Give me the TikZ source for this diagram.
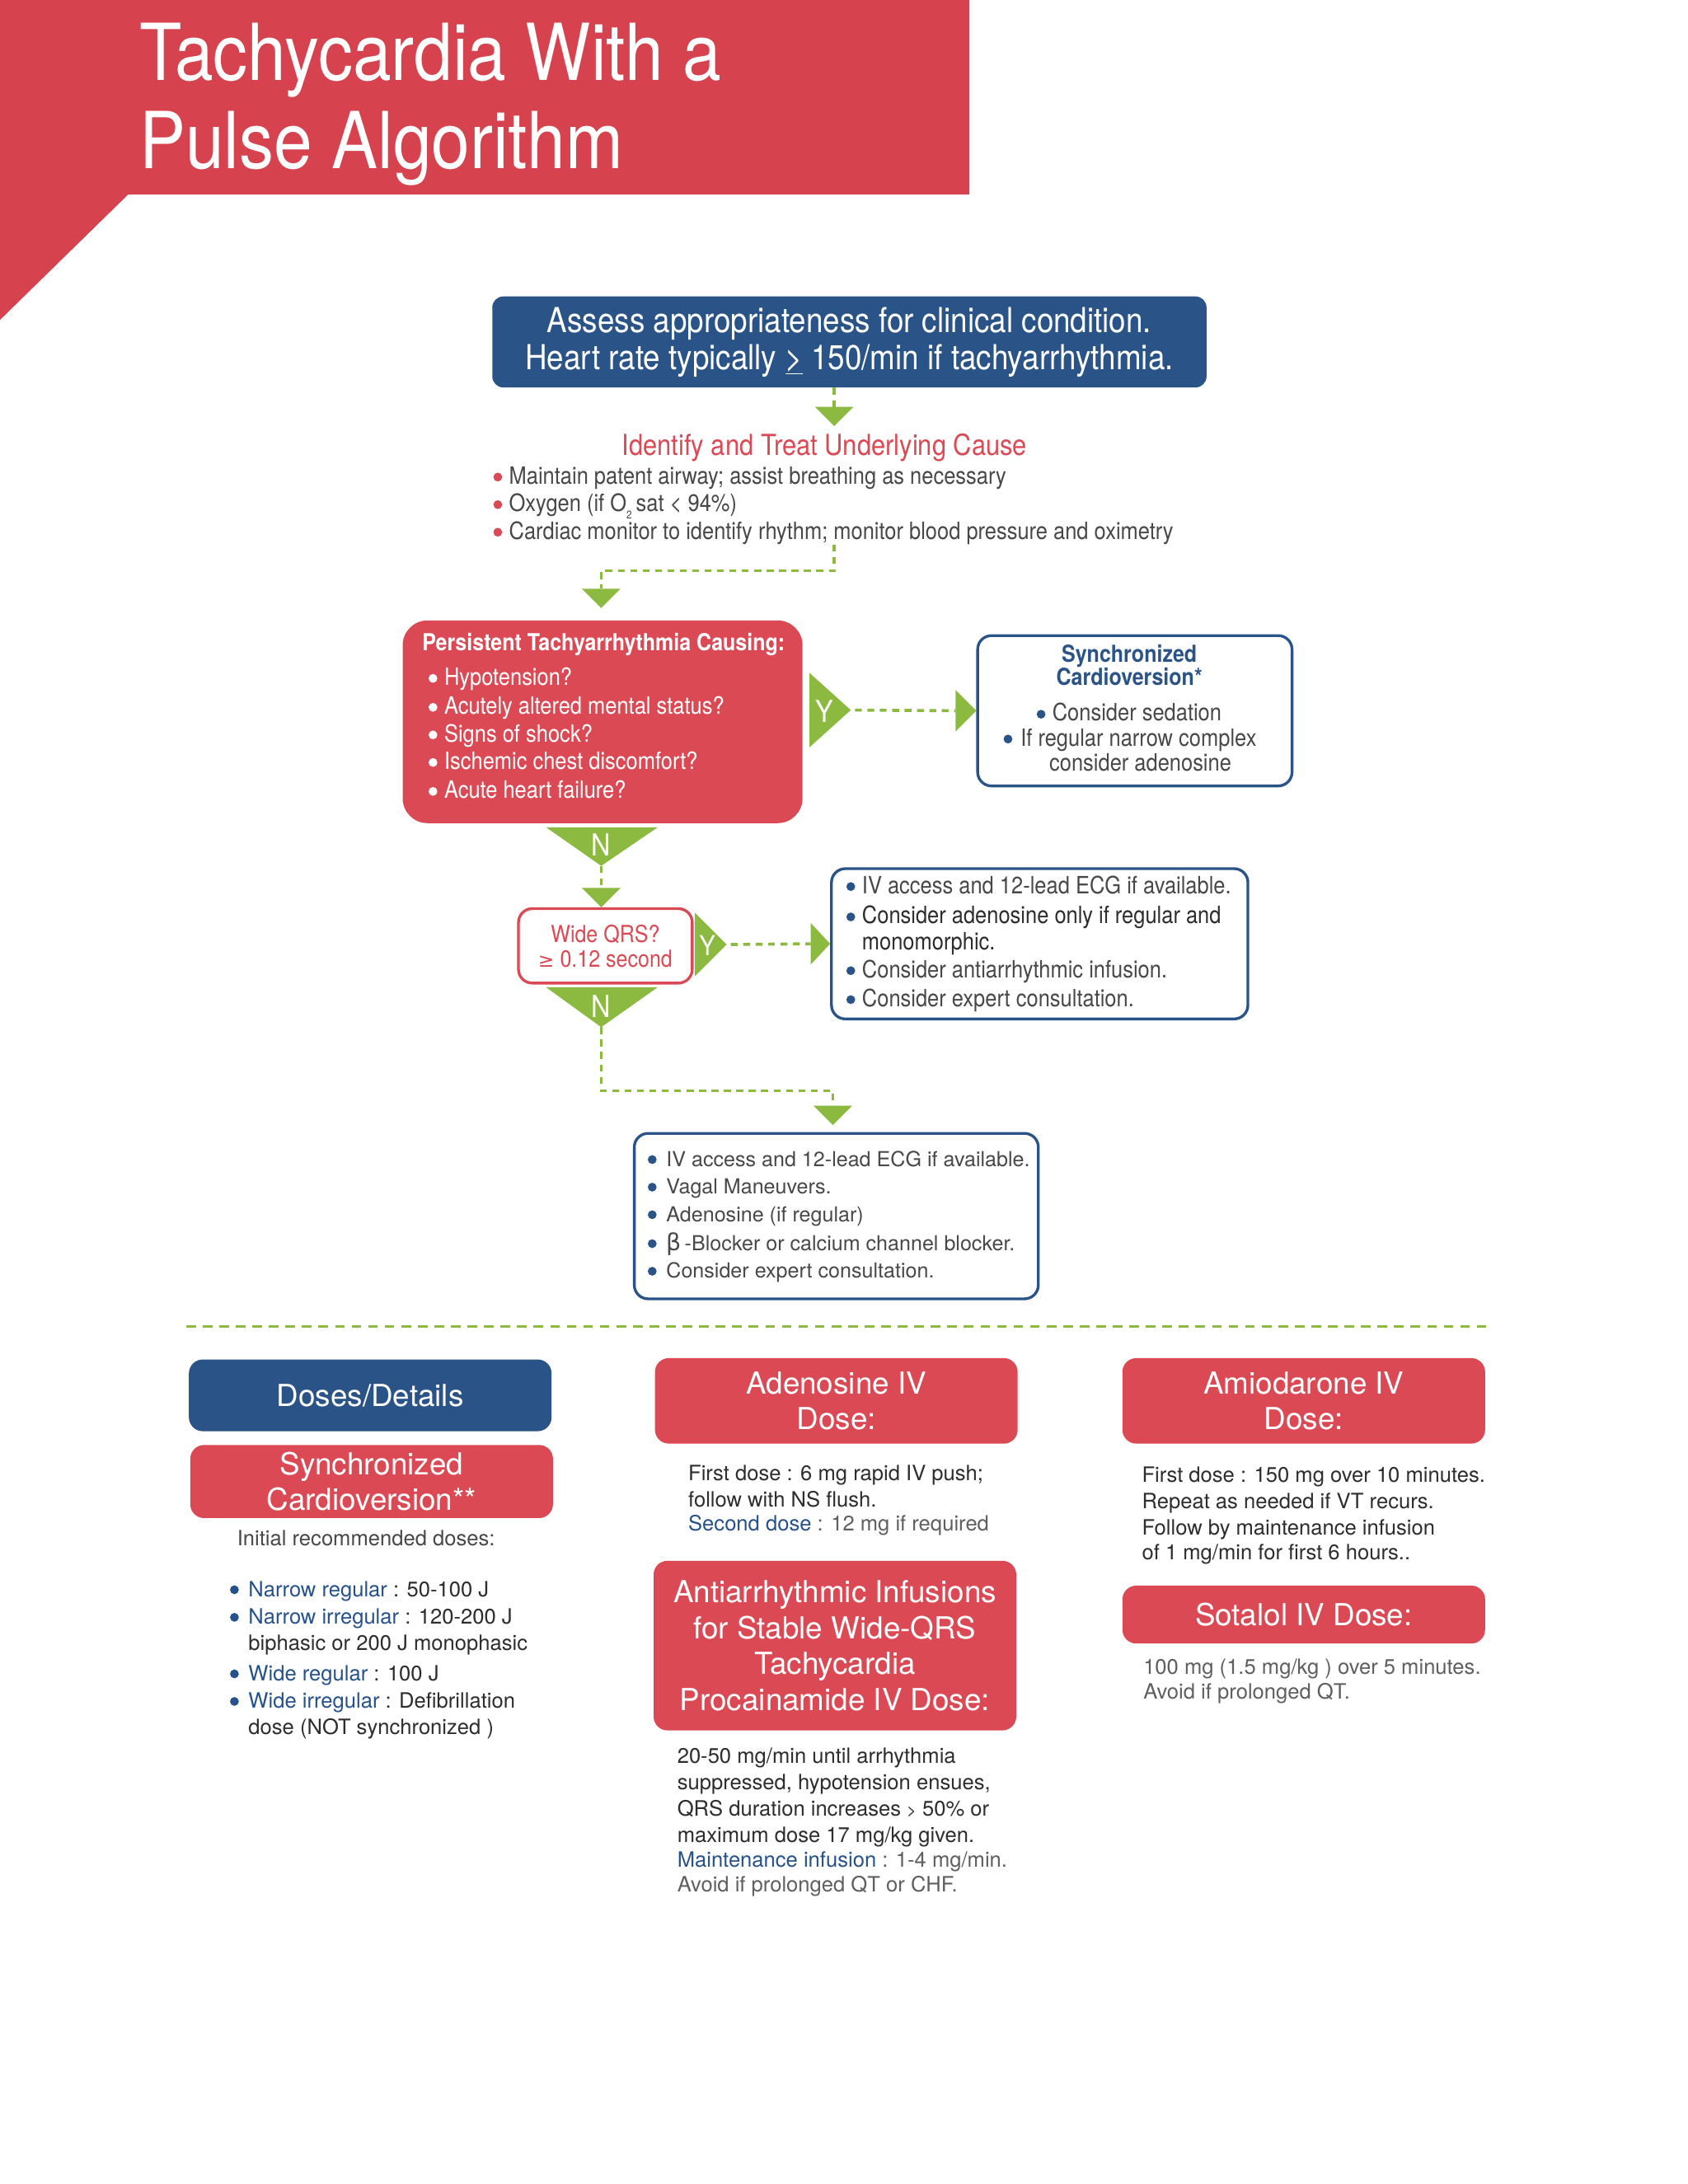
\documentclass[tikz,border=0pt]{standalone}
\usepackage{fontspec}
\setmainfont{TeX Gyre Heros}
\newfontfamily\cond[FakeStretch=0.88]{TeX Gyre Heros}
\newfontfamily\tcond[FakeStretch=0.88]{TeX Gyre Heros}
\newfontfamily\dvs{DejaVu Sans}
\usetikzlibrary{calc}
\definecolor{red1}{RGB}{219,74,84}
\definecolor{red0}{RGB}{214,66,77}
\definecolor{blu}{RGB}{42,84,135}
\definecolor{grn}{RGB}{140,186,65}
\definecolor{gry}{RGB}{72,72,75}
\definecolor{gry2}{RGB}{95,95,98}
\definecolor{dark}{RGB}{45,45,48}
\definecolor{txtblue}{RGB}{38,82,140}
\newcommand\mybul[3]{\fill[#1] (#2,#3) circle (3.2);}
\newcommand\dtri[1]{\fill[grn] (#1) -- ++(-14,-14) -- ++(28,0) -- cycle;}
\begin{document}
\begin{tikzpicture}[x=1pt,y=-1pt,
  gdash/.style={draw=grn, line width=2.2, dash pattern=on 5 off 4},
  fillbox/.style={rounded corners=10, inner sep=0, draw=none},
  outbox/.style={rounded corners=10, inner sep=0, fill=white, line width=2},
  ctxt/.style={inner sep=0, anchor=base west, text=gry, font=\cond\fontsize{17.3}{20}\selectfont},
  ntxt/.style={inner sep=0, anchor=base west, text=gry, font=\fontsize{15.3}{18}\selectfont},
  hdr/.style={text=white, align=center, font=\fontsize{22}{26}\selectfont},
  lab/.style={text=white, inner sep=0, font=\cond\fontsize{22}{24}\selectfont},
]
\useasboundingbox (0,0) rectangle (1224,1584);
\fill[white] (0,0) rectangle (1224,1584);

% title
\fill[red0] (0,0) -- (703,0) -- (703,141) -- (93,141) -- (0,232) -- cycle;
\node[inner sep=0, anchor=base west, text=white, font=\tcond\fontsize{57}{64}\selectfont] (title1) at (101,58) {Tachycardia With a};
\node[inner sep=0, anchor=base west, text=white, font=\tcond\fontsize{57}{64}\selectfont] (title2) at (101,122) {Pulse Algorithm};

% assess box
\node[fillbox, fill=blu, rounded corners=8, minimum width=518, minimum height=66, text=white, align=center, font=\cond\fontsize{25}{27}\selectfont] (assess) at (616,248) {Assess appropriateness for clinical condition.\\Heart rate typically \underline{>} 150/min if tachyarrhythmia.};

\coordinate (tipA) at (605,309);
\draw[gdash] (assess.south -| tipA) -- ($(tipA)+(0,-14)$);
\dtri{tipA}

% identify
\node[inner sep=0, anchor=base, text=red1, font=\cond\fontsize{21}{24}\selectfont] (ident) at (598,330) {Identify and Treat Underlying Cause};
\mybul{red1}{361}{346}
\node[ctxt] (i1) at (369,351) {Maintain patent airway; assist breathing as necessary};
\mybul{red1}{361}{366}
\node[ctxt] (i2) at (369,371) {Oxygen (if O\raisebox{-0.3em}{\fontsize{8}{8}\selectfont 2}\,sat < 94\%)};
\mybul{red1}{361}{386}
\node[ctxt] (i3) at (369,391) {Cardiac monitor to identify rhythm; monitor blood pressure and oximetry};

\coordinate (tipB) at (436,441);
\draw[gdash] (i3.south -| tipA) |- ($(tipB)+(0,-27)$) -- ($(tipB)+(0,-14)$);
\dtri{tipB}

% persistent box
\node[fillbox, fill=red1, rounded corners=18, minimum width=290, minimum height=147] (pers) at (437,523.5) {};
\node[ctxt, text=white, font=\cond\bfseries\fontsize{17}{20}\selectfont] (p0) at (306,472) {Persistent Tachyarrhythmia Causing:};
\mybul{white}{314}{492}
\node[ctxt, text=white] (p1) at (322,497) {Hypotension?};
\mybul{white}{314}{513}
\node[ctxt, text=white] (p2) at (322,518) {Acutely altered mental status?};
\mybul{white}{314}{533}
\node[ctxt, text=white] (p3) at (322,538) {Signs of shock?};
\mybul{white}{314}{553}
\node[ctxt, text=white] (p4) at (322,558) {Ischemic chest discomfort?};
\mybul{white}{314}{574}
\node[ctxt, text=white] (p5) at (322,579) {Acute heart failure?};

% sync box
\node[outbox, draw=blu, minimum width=228, minimum height=109] (sync) at (823,515.5) {};
\node[inner sep=0, anchor=base, text=blu, font=\cond\bfseries\fontsize{17}{20}\selectfont] (s0) at (819,480) {Synchronized};
\node[inner sep=0, anchor=base, text=blu, font=\cond\bfseries\fontsize{17}{20}\selectfont] (s0b) at (819,497) {Cardioversion*};
\mybul{blu}{755}{518}
\node[ctxt] (s1) at (763,523) {Consider sedation};
\mybul{blu}{731}{536}
\node[ctxt] (s2) at (740,541) {If regular narrow complex};
\node[ctxt, anchor=base] (s3) at (827,559) {consider adenosine};

% Y1
\coordinate (y1tip) at (617,515);
\fill[grn] (y1tip) -- ++(-30,-27) -- ++(0,54) -- cycle;
\node[lab] (y1) at (598,516) {Y};
\draw[gdash] ($(y1tip)+(3,0)$) -- ($(sync.west)+(-15,0)$);
\fill[grn] (sync.west) -- ++(-15,-15) -- ++(0,30) -- cycle;

% N1
\coordinate (n1tip) at (436,628);
\fill[grn] (n1tip) -- ++(-40,-28) -- ++(81,0) -- cycle;
\node[lab] (n1) at (436,613) {N};
\coordinate (tipC) at (436,658);
\draw[gdash] (n1tip) -- ($(tipC)+(0,-14)$);
\dtri{tipC}

% wide QRS
\node[outbox, draw=red1, minimum width=126, minimum height=54, text=red1, align=center, font=\cond\fontsize{17}{18}\selectfont] (wq) at (439,686) {Wide QRS?\\{\dvs\fontsize{14}{18}\selectfont ≥} 0.12 second};

% Y2
\coordinate (y2tip) at (527,685);
\fill[grn] (y2tip) -- ++(-23,-23) -- ++(0,46) -- cycle;
\node[lab, font=\cond\fontsize{20}{22}\selectfont] (y2) at (513,686) {Y};

% right box
\node[outbox, draw=blu, minimum width=302, minimum height=109] (rb) at (754,684.5) {};
\draw[gdash] ($(y2tip)+(3,0)$) -- ($(rb.west)+(-14,0)$);
\fill[grn] (rb.west) -- ++(-14,-15) -- ++(0,30) -- cycle;
\mybul{blu}{617}{643}
\node[ctxt] (r1) at (625,648) {IV access and 12-lead ECG if available.};
\mybul{blu}{617}{665}
\node[ctxt, text=dark] (r2) at (625,670) {Consider adenosine only if regular and};
\node[ctxt, text=dark] (r3) at (625,689) {monomorphic.};
\mybul{blu}{617}{704}
\node[ctxt] (r4) at (625,709) {Consider antiarrhythmic infusion.};
\mybul{blu}{617}{725}
\node[ctxt] (r5) at (625,730) {Consider expert consultation.};

% N2
\coordinate (n2tip) at (436,745);
\fill[grn] (n2tip) -- ++(-40,-29) -- ++(81,0) -- cycle;
\node[lab] (n2) at (436,730) {N};
\coordinate (tipD) at (604,816);
\draw[gdash] (n2tip) |- ($(tipD)+(0,-25)$) -- ($(tipD)+(0,-14)$);
\dtri{tipD}

% bottom box
\node[outbox, draw=blu, minimum width=293, minimum height=120] (bb) at (606.5,882) {};
\mybul{blu}{473}{841}
\node[ntxt, font=\fontsize{15}{18}\selectfont] (b1) at (483,846) {IV access and 12-lead ECG if available.};
\mybul{blu}{473}{861}
\node[ntxt, font=\fontsize{15}{18}\selectfont] (b2) at (483,866) {Vagal Maneuvers.};
\mybul{blu}{473}{881}
\node[ntxt, font=\fontsize{15}{18}\selectfont] (b3) at (483,886) {Adenosine (if regular)};
\mybul{blu}{473}{902}
\node[ntxt, font=\fontsize{15}{18}\selectfont] (b4) at (483,907) {{\dvs\fontsize{17}{18}\selectfont β}\,-Blocker or calcium channel blocker.};
\mybul{blu}{473}{922}
\node[ntxt, font=\fontsize{15}{18}\selectfont] (b5) at (483,927) {Consider expert consultation.};

% separator
\coordinate (sepL) at (135,962);
\coordinate (sepR) at (1078,962);
\draw[grn, line width=2, dash pattern=on 7 off 5] (sepL) -- (sepR);

% left column
\node[fillbox, fill=blu, minimum width=263, minimum height=52, hdr] (doses) at (268.5,1012) {Doses/Details};
\node[fillbox, fill=red1, minimum width=263, minimum height=53, hdr] (scard) at (269.5,1074.5) {Synchronized\\Cardioversion**};
\node[ntxt, anchor=base] (init) at (265.5,1121) {Initial recommended doses:};
\mybul{txtblue}{170}{1153}
\node[ntxt, text=dark] (l1) at (180,1158) {\textcolor{txtblue}{Narrow regular} : 50-100 J};
\mybul{txtblue}{170}{1173}
\node[ntxt, text=dark] (l2) at (180,1178) {\textcolor{txtblue}{Narrow irregular} : 120-200 J};
\node[ntxt, text=dark] (l3) at (180,1197) {biphasic or 200 J monophasic};
\mybul{txtblue}{170}{1214}
\node[ntxt, text=dark] (l4) at (180,1219) {\textcolor{txtblue}{Wide regular} : 100 J};
\mybul{txtblue}{170}{1234}
\node[ntxt, text=dark] (l5) at (180,1239) {\textcolor{txtblue}{Wide irregular} : Defibrillation};
\node[ntxt, text=dark] (l6) at (180,1258) {dose (NOT synchronized )};

% middle column
\node[fillbox, fill=red1, minimum width=263, minimum height=62, hdr] (aden) at (606.5,1016) {Adenosine IV\\Dose:};
\node[ntxt, text=dark] (m1) at (499,1074) {First dose : 6 mg rapid IV push;};
\node[ntxt, text=dark] (m2) at (499,1093) {follow with NS flush.};
\node[ntxt, text=gry2] (m3) at (499,1110) {\textcolor{txtblue}{Second dose} : 12 mg if required};
\node[fillbox, fill=red1, minimum width=263, minimum height=123, hdr] (anti) at (605.5,1193.5) {Antiarrhythmic Infusions\\for Stable Wide-QRS\\Tachycardia\\Procainamide IV Dose:};
\node[ntxt, text=dark] (m4) at (491,1279) {20-50 mg/min until arrhythmia};
\node[ntxt, text=dark] (m5) at (491,1298) {suppressed, hypotension ensues,};
\node[ntxt, text=dark] (m6) at (491,1317) {QRS duration increases {\fontsize{12}{12}\selectfont >} 50\% or};
\node[ntxt, text=dark] (m7) at (491,1336) {maximum dose 17 mg/kg given.};
\node[ntxt, text=gry2] (m8) at (491,1354) {\textcolor{txtblue}{Maintenance infusion} : 1-4 mg/min.};
\node[ntxt, text=gry2] (m9) at (491,1372) {Avoid if prolonged QT or CHF.};

% right column
\node[fillbox, fill=red1, minimum width=263, minimum height=62, hdr] (amio) at (945.5,1016) {Amiodarone IV\\Dose:};
\node[ntxt, text=dark] (a1) at (828,1075) {First dose : 150 mg over 10 minutes.};
\node[ntxt, text=dark] (a2) at (828,1094) {Repeat as needed if VT recurs.};
\node[ntxt, text=dark] (a3) at (828,1113) {Follow by maintenance infusion};
\node[ntxt, text=dark] (a4) at (828,1131) {of 1 mg/min for first 6 hours..};
\node[fillbox, fill=red1, minimum width=263, minimum height=42, hdr] (sota) at (945.5,1171) {Sotalol IV Dose:};
\node[ntxt, text=gry2] (o1) at (829,1214) {100 mg (1.5 mg/kg ) over 5 minutes.};
\node[ntxt, text=gry2] (o2) at (829,1232) {Avoid if prolonged QT.};
\end{tikzpicture}
\end{document}
